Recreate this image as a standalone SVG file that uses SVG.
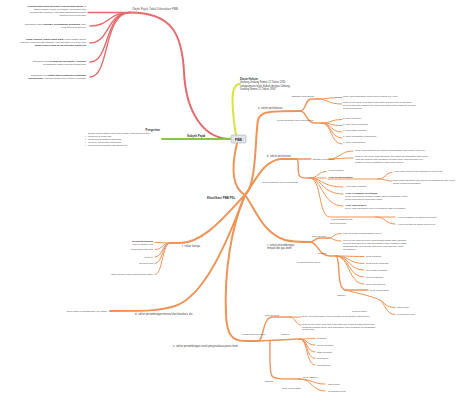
<svg xmlns="http://www.w3.org/2000/svg" width="474" height="401" viewBox="0 0 474 401">
<style>
text{font-family:"Liberation Sans",Arial,sans-serif;fill:#4a4a4a}
.s{font-size:2.4px}
.l{font-size:2.6px;fill:#444}
.m{font-size:3px;fill:#333;font-weight:bold}
.b{font-weight:bold;fill:#333}
.r{text-anchor:end}
path{fill:none;stroke-linecap:round}
.red{stroke:#e46a6c}
.yel{stroke:#d8e04a}
.grn{stroke:#8bc34a}
.org{stroke:#ef9357}
.w1{stroke-width:2}
.w2{stroke-width:1.4}
.w3{stroke-width:1}
</style>
<rect width="474" height="401" fill="#fff"/>
<g id="connectors">
<path class="red w1" d="M231,139 C203,139 186,112 184,72 C182,34 172,12.5 130,12.5"/>
<path class="red w2" d="M130,12.5 L88,12.5"/>
<path class="red w2" d="M130,12.5 C108,12.5 110,26 90,26"/>
<path class="red w2" d="M130,12.5 C106,12.5 110,43 90,43"/>
<path class="red w2" d="M130,12.5 C104,12.5 110,62 90,62"/>
<path class="red w2" d="M130,12.5 C103,12.5 110,77 90,77"/>
<path class="yel w1" d="M236,135 C233,118 231,96 234,89 C235,86 237,84 240,84"/>
<path class="grn w1" d="M231,139 L162,139"/>
<path class="org w1" d="M237,143 C233,160 229,186 245,195"/>
<path class="org w1" d="M245,195 C257,185 255,135 258,120 C260,112 266,111 300,111"/>
<path class="org w2" d="M300,111 C307,111 304,99 312,99 L318,99"/>
<path class="org w3" d="M318,99 C328,99 327,97.5 342,97.5"/>
<path class="org w3" d="M318,99 C328,99 327,104 342,104"/>
<path class="org w2" d="M300,111 C307,111 306,123 314,123 L322,123"/>
<path class="org w3" d="M322,123 C332,123 330,119.5 342,119.5"/>
<path class="org w3" d="M322,123 C332,123 330,125.5 342,125.5"/>
<path class="org w3" d="M322,123 C332,123 330,132 342,132"/>
<path class="org w3" d="M322,123 C332,123 330,138 342,138"/>
<path class="org w3" d="M322,123 C332,123 330,144 342,144"/>
<path class="org w1" d="M245,195 C255,182 262,162 280,159 L296,159"/>
<path class="org w2" d="M296,159 L311,159"/>
<path class="org w3" d="M329,159 C340,159 340,151 353,151"/>
<path class="org w3" d="M329,159 C340,159 340,158 353,158"/>
<path class="org w2" d="M296,159 C300,159 297,170 299,175 C300,178 303,178 310,178"/>
<path class="org w3" d="M310,178 C318,178 318,171.5 326,171.5"/>
<path class="org w3" d="M310,178 L326,178 M328,179 L378,179"/>
<path class="org w3" d="M378,179 C386,179 385,172.5 392,172.5"/>
<path class="org w3" d="M378,179 C386,179 385,181 392,181"/>
<path class="org w3" d="M310,178 C322,178 322,187 343,187"/>
<path class="org w3" d="M310,178 C322,178 322,194 343,194"/>
<path class="org w3" d="M310,178 C322,178 322,206 343,206"/>
<path class="org w3" d="M310,178 C322,178 318,217 330,217 L376,217"/>
<path class="org w3" d="M376,217 L395,217"/>
<path class="org w3" d="M376,217 C386,217 385,224 395,224"/>
<path class="org w1" d="M245,195 C256,210 262,232 285,240 C292,242 300,242 310,242"/>
<path class="org w2" d="M310,242 C315,242 314,238 320,238 L328,238"/>
<path class="org w3" d="M328,238 C334,238 333,233.5 341,233.5"/>
<path class="org w3" d="M328,238 C334,238 333,241 341,241"/>
<path class="org w2" d="M310,242 C318,242 318,256 330,256 L336,256"/>
<path class="org w3" d="M336,256 C350,256 350,256.5 364,256.5"/>
<path class="org w3" d="M336,256 C350,256 348,263.5 364,263.5"/>
<path class="org w3" d="M336,256 C350,256 348,270 364,270"/>
<path class="org w3" d="M336,256 C350,256 348,277 364,277"/>
<path class="org w3" d="M336,256 C350,256 348,284 364,284"/>
<path class="org w2" d="M336,256 C341,258 336,288 345,290 L368,290"/>
<path class="org w3" d="M345,290 C352,292 372,296 380,300 C385,303 386,307.5 395,307.5"/>
<path class="org w3" d="M380,300 C386,305 386,314.5 395,314.5"/>
<path class="org w1" d="M245,195 C228,240 205,296 175,306 C160,311 145,311 110,311"/>
<path class="org w1" d="M245,195 C232,225 224,270 226,315 C227,335 232,341 245,341 L258,341"/>
<path class="org w2" d="M258,341 C264,341 262,318 272,317 L290,317"/>
<path class="org w3" d="M290,317 L301,317"/>
<path class="org w3" d="M290,317 C296,317 295,325 301,325"/>
<path class="org w2" d="M258,341 L300,339"/>
<path class="org w3" d="M300,339 C308,339 306,338.5 315,338.5"/>
<path class="org w3" d="M300,339 C308,339 306,345 315,345"/>
<path class="org w3" d="M300,339 C308,339 306,352 315,352"/>
<path class="org w3" d="M300,339 C308,339 306,358.5 315,358.5"/>
<path class="org w3" d="M300,339 C308,339 306,365 315,365"/>
<path class="org w2" d="M270,341 C270,350 269,372 272,376 C274,379 280,379 300,379"/>
<path class="org w3" d="M300,379 C312,379 312,384 325,384"/>
<path class="org w3" d="M300,379 C312,379 312,391 325,391"/>
<path class="org w1" d="M245,195 C228,212 205,243 180,243 L170,243"/>
<path class="org w3" d="M170,243 L155,242.5"/>
<path class="org w3" d="M170,243 C162,243 163,249.5 155,249.5"/>
<path class="org w3" d="M170,243 C162,243 163,257 155,257"/>
<path class="org w3" d="M170,243 C162,243 163,263.5 155,263.5"/>
<path class="org w3" d="M170,243 C162,243 163,274.5 155,274.5"/>
</g>

<g id="pbb">
<rect x="231" y="135" width="15" height="8" rx="1.5" fill="#e1e4e8" stroke="#9aa0a8" stroke-width="0.5"/>
<text x="238.5" y="140.6" text-anchor="middle" style="font-size:3.4px;font-weight:bold;fill:#333">PBB</text>
</g>

<g id="objek-tidak-dikenakan">
<text class="m" x="132" y="10" style="font-weight:normal;fill:#555">Objek Pajak Tidak Dikenakan PBB</text>
</g>
<g id="objek-1">
<text class="s r" x="86" y="7"><tspan class="b">semata-mata untuk melayani kepentingan umum,</tspan> di</text>
<text class="s r" x="86" y="10">bidang ibadah, sosial, kesehatan, pendidikan dan</text>
<text class="s r" x="86" y="13">kebudayaan nasional, yang tidak dimaksudkan untuk</text>
<text class="s r" x="86" y="16">memperoleh keuntungan</text>
</g>
<g id="objek-2">
<text class="s r" x="86" y="25">digunakan untuk <tspan class="b">kuburan, peninggalan purbakala</tspan>, atau</text>
<text class="s r" x="86" y="28">yang sejenis dengan itu</text>
</g>
<g id="objek-3">
<text class="s r" x="86" y="40"><tspan class="b">hutan lindung, hutan suaka alam</tspan>, hutan wisata, taman</text>
<text class="s r" x="86" y="43">nasional, tanah penggembalaan yang dikuasai oleh desa, dan</text>
<text class="s r" x="86" y="46"><tspan class="b">tanah negara yang belum dibebani suatu hak</tspan></text>
</g>
<g id="objek-4">
<text class="s r" x="86" y="61.5">digunakan oleh <tspan class="b">perwakilan diplomatik, konsulat</tspan></text>
<text class="s r" x="86" y="64.5">berdasarkan asas perlakuan timbal balik</text>
</g>
<g id="objek-5">
<text class="s r" x="86" y="76">digunakan oleh <tspan class="b">badan atau perwakilan organisasi</tspan></text>
<text class="s r" x="86" y="79"><tspan class="b">internasional</tspan> yang ditentukan oleh Menteri Keuangan</text>
</g>

<g id="dasar-hukum">
<text class="m" x="240" y="79.5" style="font-size:2.8px">Dasar Hukum</text>
<text class="l" x="240" y="83">Undang-Undang Nomor 12 Tahun 1985</text>
<text class="l" x="240" y="86.5">sebagaimana telah diubah dengan Undang-</text>
<text class="l" x="240" y="90">Undang Nomor 12 Tahun 1994</text>
</g>

<g id="subjek-pajak">
<text class="m" x="187" y="136.5">Subjek Pajak</text>
</g>
<g id="pengertian">
<text class="m r" x="160" y="131" style="font-size:2.8px">Pengertian</text>
<text class="s" x="88" y="134">Subjek pajak adalah orang atau badan yang secara nyata:</text>
<text class="s" x="85" y="137">•</text><text class="s" x="88" y="137">mempunyai suatu hak</text>
<text class="s" x="85" y="140">•</text><text class="s" x="88" y="140">memperoleh manfaat atas bumi</text>
<text class="s" x="85" y="143">•</text><text class="s" x="88" y="143">memiliki, menguasai bangunan</text>
<text class="s" x="85" y="146">•</text><text class="s" x="88" y="146">memperoleh manfaat atas bangunan</text>
</g>

<g id="klasifikasi">
<text class="m" x="207" y="198.5">Klasifikasi PBB P5L</text>
</g>

<g id="sektor-a">
<text class="l" x="258" y="109">a. sektor perkebunan</text>
</g>
<g id="batasan-perkebunan">
<text class="s" x="292" y="97.3">Batasan perkebunan</text>
<text class="s" x="343" y="96.7">areal yang digunakan untuk kebun sesuai izin HGU</text>
<text class="s" x="343" y="103">areal di luar areal yang diberi hak tetapi dikelola oleh pengusaha</text>
<text class="s" x="343" y="106">perkebunan atau bidang lain yang merupakan satu kesatuan dengan</text>
<text class="s" x="343" y="109">areal perkebunan</text>
</g>
<g id="pengelompokan-perkebunan">
<text class="s" x="277" y="121.3">Pengelompokan areal perkebunan</text>
<text class="s" x="343" y="118.7">a. areal produktif</text>
<text class="s" x="343" y="124.7">b. areal belum produktif</text>
<text class="s" x="343" y="131.2">c. areal tidak produktif</text>
<text class="s" x="343" y="137.2">d. areal pengaman perkebunan</text>
<text class="s" x="343" y="143.2">e. areal emplasemen</text>
</g>

<g id="sektor-b">
<text class="l" x="267" y="156.5">b. sektor perhutanan</text>
</g>
<g id="batasan-perhutanan">
<text class="s" x="313" y="159.8">Batasan perhutanan</text>
<text class="s" x="355" y="150.7">areal yang dibebani izin usaha pemanfaatan hasil hutan (IUPHHK)</text>
<text class="s" x="355" y="157">areal di luar areal yang diberikan izin usaha pemanfaatan hasil hutan</text>
<text class="s" x="355" y="160">yang merupakan satu kesatuan dengan areal yang dibebani izin,</text>
<text class="s" x="355" y="163">misalnya areal emplasemen dan areal lainnya</text>
</g>
<g id="pengelompokan-perhutanan">
<text class="s" x="262" y="182.5">Pengelompokan areal perhutanan</text>
<text class="s" x="328" y="171">Areal produktif</text>
<text class="s b" x="328" y="177.5">Areal belum produktif</text>
<text class="s" x="393" y="172.2">Areal hutan yang belum produktif di areal kerja</text>
<text class="s" x="393" y="181">areal hutan tanaman yang belum menghasilkan atau areal</text>
<text class="s" x="393" y="184.3">dalam proses penanaman</text>
<text class="s" x="345" y="186.5">Areal tidak produktif</text>
<text class="s b" x="345" y="193.5">Areal Pengaman Perhutanan</text>
<text class="s" x="345" y="196.7">areal yang karena fungsinya tidak dapat diusahakan, untuk</text>
<text class="s" x="345" y="199.7">konservasi dan perlindungan hutan</text>
<text class="s b" x="345" y="205.5">Areal emplasemen</text>
<text class="s" x="345" y="208.7">areal yang digunakan untuk perkantoran dan perumahan</text>
<text class="s" x="330" y="220">Areal pembibitan dan</text>
<text class="s" x="330" y="223.5">areal penelitian</text>
<text class="s" x="397" y="217.7">Areal pembibitan di dalam areal kerja</text>
<text class="s" x="397" y="224.7">Areal penelitian di dalam areal kerja</text>
</g>

<g id="sektor-c">
<text class="l" x="267" y="245.5">c. sektor pertambangan</text>
<text class="l" x="267" y="249">minyak dan gas bumi</text>
</g>
<g id="wilayah-kerja-migas">
<text class="s" x="312" y="236.8">wilayah kerja</text>
<text class="s" x="343" y="233.8">wilayah kuasa pertambangan (WKP)</text>
<text class="s" x="343" y="240.5">areal di luar wilayah kerja yang berada dalam satu kawasan</text>
<text class="s" x="343" y="243.8">dengan wilayah kerja yang digunakan untuk kegiatan usaha</text>
<text class="s" x="343" y="247.1">pertambangan minyak dan gas bumi (emplasemen, jalan</text>
<text class="s" x="343" y="250.4">operasional)</text>
</g>
<g id="onshore-migas">
<text class="s" x="318" y="253.5">onshore</text>
<text class="s" x="297" y="263.3">pengelompokan areal</text>
<text class="s" x="366" y="257">areal produktif</text>
<text class="s" x="366" y="264">areal belum produktif</text>
<text class="s" x="366" y="270.5">areal tidak produktif</text>
<text class="s" x="366" y="277.5">areal pengaman</text>
<text class="s" x="366" y="284.5">areal emplasemen</text>
</g>
<g id="offshore-migas">
<text class="s" x="370" y="291">areal lepas pantai</text>
<text class="s" x="337" y="295.5">offshore</text>
<text class="s" x="352" y="311.5">areal perairan</text>
<text class="s" x="397" y="308">tubuh bumi</text>
<text class="s" x="397" y="315">permukaan bumi</text>
</g>

<g id="sektor-d">
<text class="l" x="135" y="315">d. sektor pertambangan mineral dan batubara, dst</text>
<text class="s r" x="107" y="311.8">areal kuasa pertambangan/ izin usaha</text>
</g>

<g id="sektor-e">
<text class="l" x="173" y="346.5">e. sektor pertambangan untuk pengusahaan panas bumi</text>
</g>
<g id="wilayah-kerja-panas">
<text class="s" x="265" y="316">wilayah kerja</text>
<text class="s" x="302" y="316.7">areal yang digunakan untuk kegiatan pengusahaan panas bumi</text>
<text class="s" x="302" y="325">areal di luar areal yang diberi hak atau izin, tetapi berada dalam satu</text>
<text class="s" x="302" y="327.7">kesatuan dengan areal yang digunakan untuk kegiatan pengusahaan</text>
<text class="s" x="302" y="330.4">panas bumi</text>
</g>
<g id="onshore-panas">
<text class="s" x="242" y="334.5">pengelompokan areal</text>
<text class="s" x="281" y="334.5">onshore</text>
<text class="s" x="317" y="339">produktif</text>
<text class="s" x="317" y="345.5">belum produktif</text>
<text class="s" x="317" y="352.5">tidak produktif</text>
<text class="s" x="317" y="359">pengaman</text>
<text class="s" x="317" y="365.5">emplasemen</text>
</g>
<g id="offshore-panas">
<text class="s" x="303" y="378.3">areal offshore</text>
<text class="s" x="265" y="382">offshore</text>
<text class="s" x="282" y="388.5">areal lepas pantai</text>
<text class="s" x="328" y="384.8">tubuh bumi</text>
<text class="s" x="328" y="391.8">permukaan bumi</text>
</g>

<g id="sektor-f">
<text class="l" x="182" y="247.3">f. sektor lainnya</text>
<text class="s r b" x="153" y="241.6">perikanan tangkap</text>
<text class="s r" x="153" y="244.6">hasil perikanan laut</text>
<text class="s r" x="153" y="250">pembudidayaan ikan</text>
<text class="s r" x="153" y="257.5">jalan tol</text>
<text class="s r" x="153" y="264">jaringan pipa</text>
<text class="s r" x="153" y="275">objek lainnya yang dikategorikan sektor</text>
</g>
</svg>
